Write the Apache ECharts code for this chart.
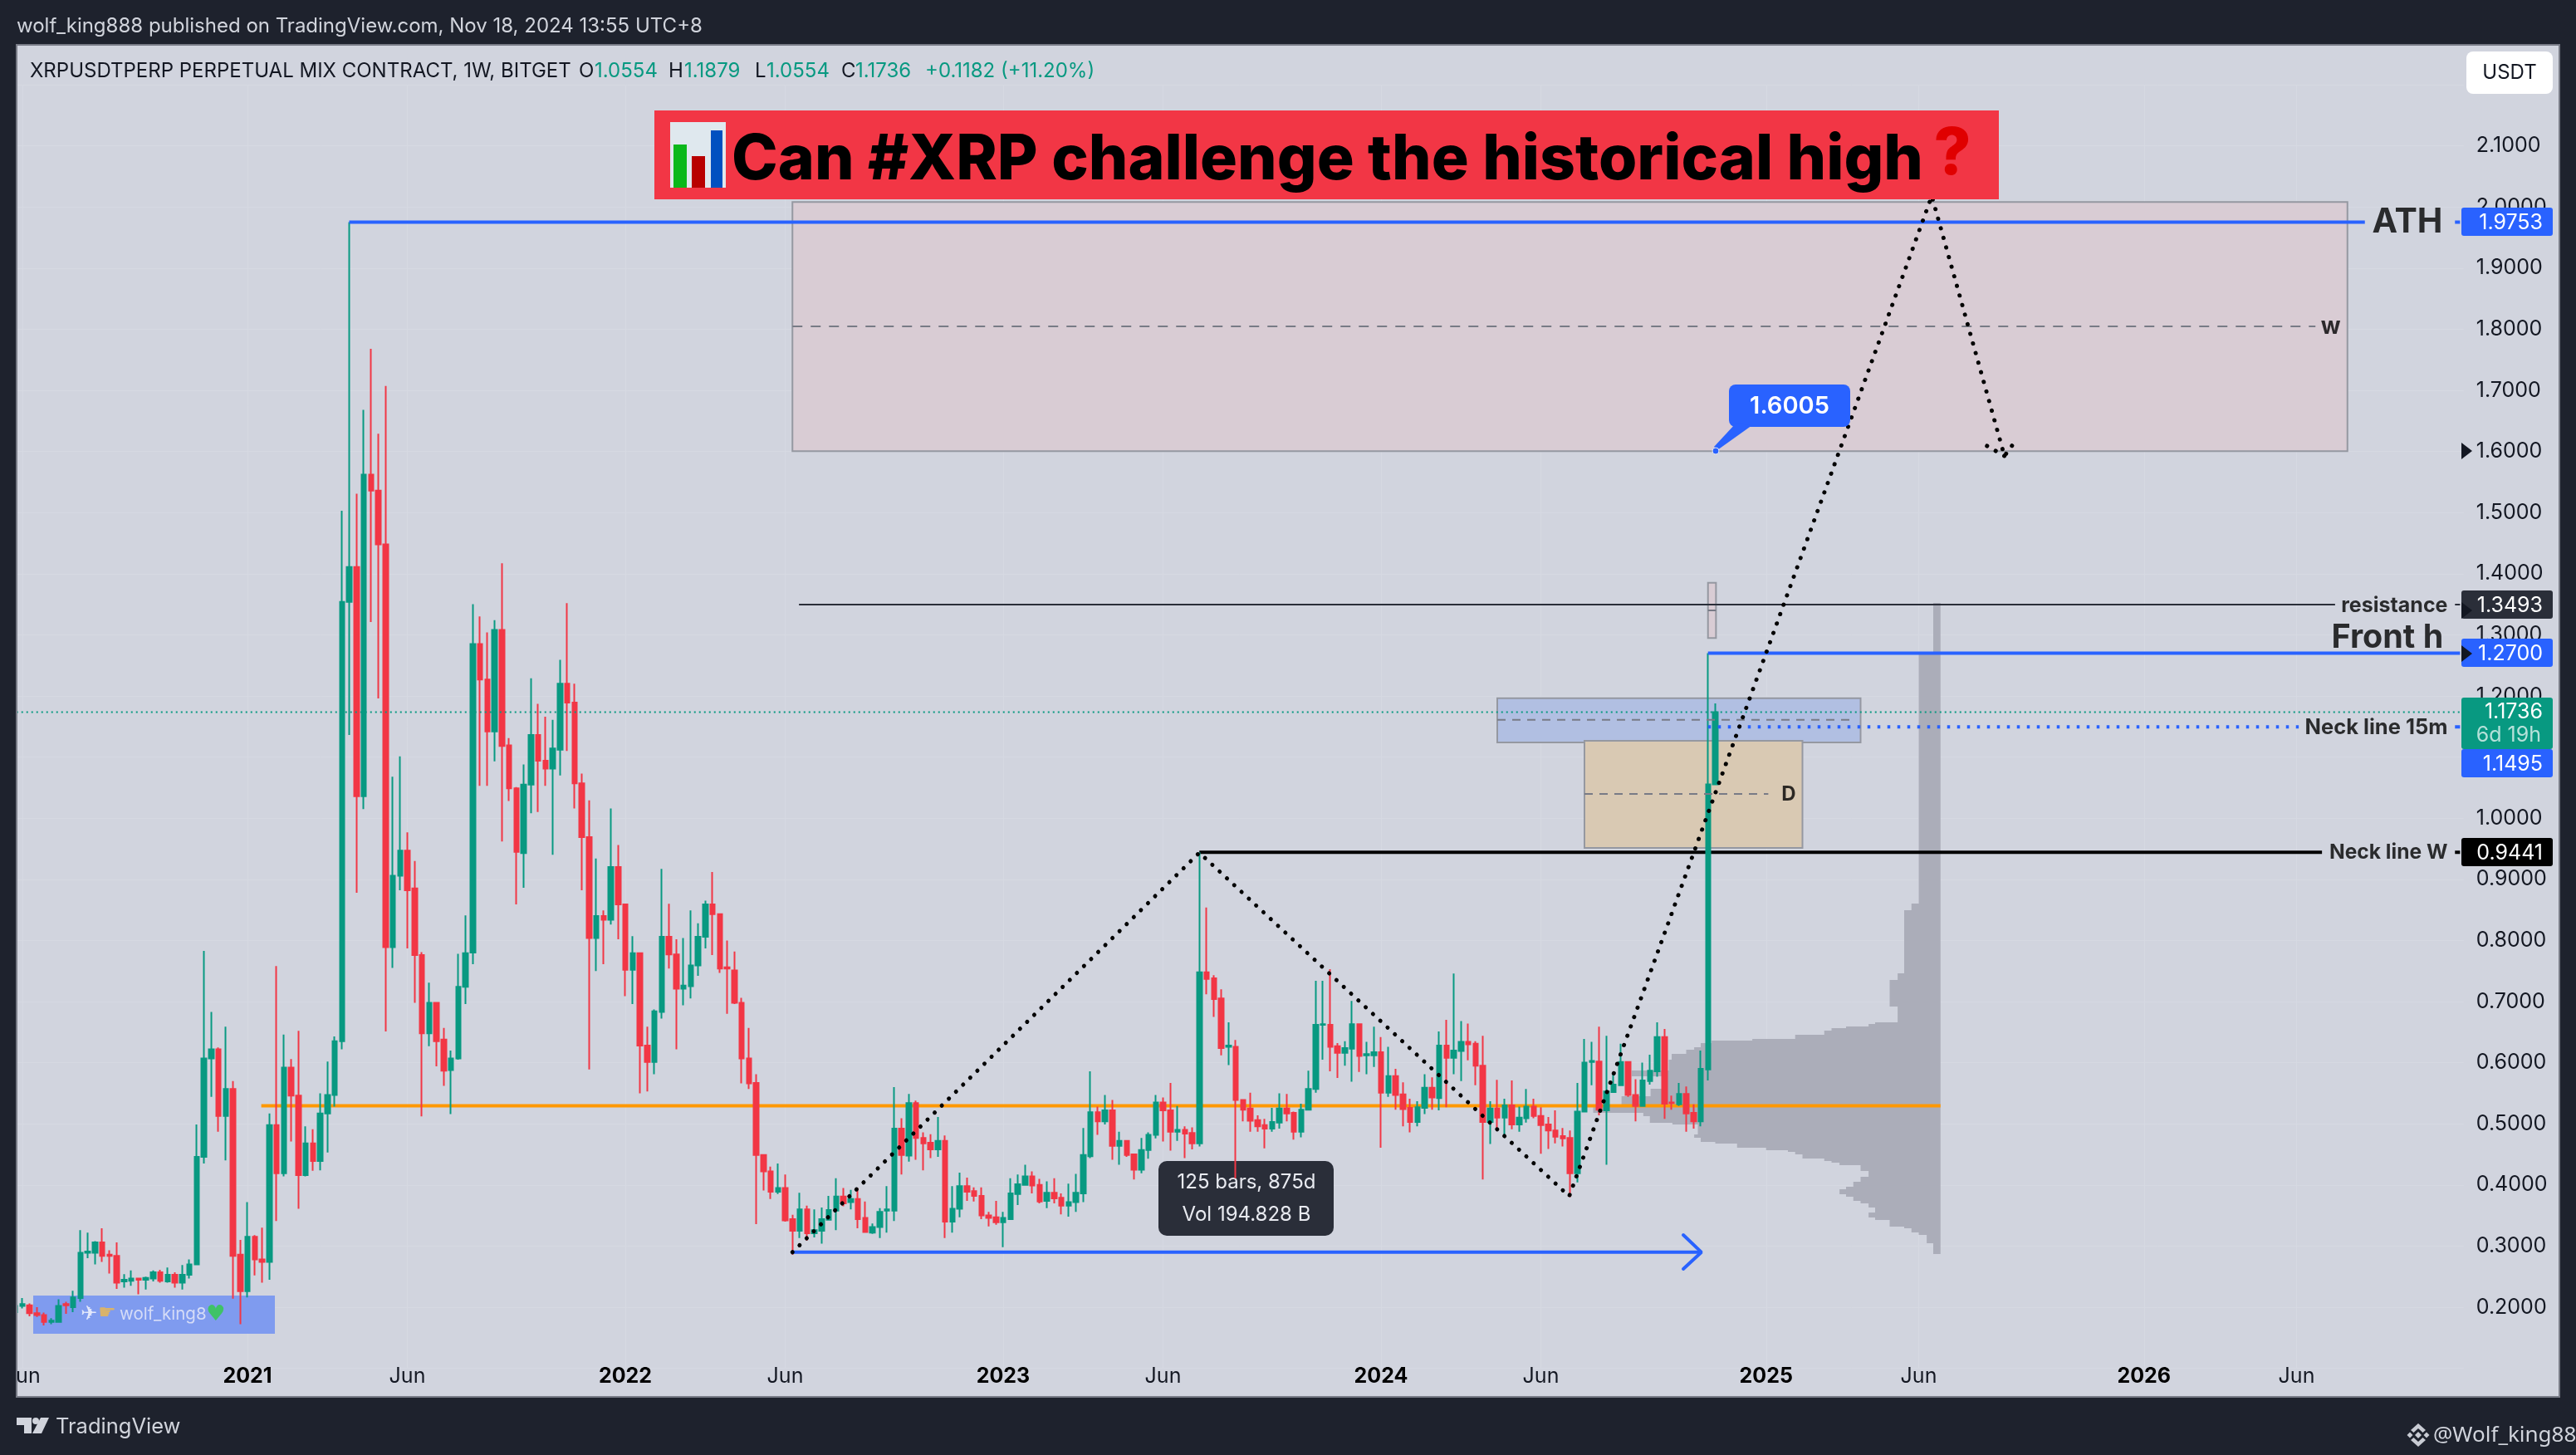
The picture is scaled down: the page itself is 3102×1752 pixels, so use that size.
<!DOCTYPE html>
<html><head><meta charset="utf-8">
<style>html,body{margin:0;padding:0;background:#1e222d}#c{width:3102px;height:1752px}</style>
<script src="https://cdn.jsdelivr.net/npm/echarts@6/dist/echarts.min.js"></script>
</head><body><div id="c"></div>
<script>
// ---- weekly candles, oldest first (week 32 is the first week of 2021) ----
const open=[
.192,.202,.203,.190,.187,.176,.176,.205,.200,.215,
.289,.289,.306,.286,.284,.242,.243,.247,.245,.247,
.257,.242,.253,.240,.253,.270,.446,.607,.622,.513,
.557,.286,.226,.315,.278,.274,.498,.419,.592,.546,
.416,.468,.439,.517,.547,.635,1.354,1.411,1.036,1.562,
1.536,1.448,.789,.906,.947,.885,.776,.648,.698,.638,
.588,.607,.724,.780,1.285,1.227,1.142,1.308,1.119,1.049,
.943,1.055,1.136,1.094,1.081,1.112,1.220,1.189,1.057,.969,
.804,.840,.834,.920,.859,.752,.779,.628,.601,.683,
.806,.777,.721,.725,.759,.806,.859,.843,.756,.751,
.698,.607,.567,.449,.422,.389,.395,.344,.325,.360,
.321,.325,.343,.358,.381,.372,.377,.346,.322,.331,
.358,.358,.492,.448,.534,.477,.469,.458,.472,.340,
.361,.398,.390,.382,.350,.347,.339,.344,.385,.400,
.414,.400,.374,.387,.379,.366,.372,.386,.447,.519,
.504,.522,.464,.472,.450,.425,.457,.482,.535,.522,
.487,.490,.485,.468,.748,.738,.705,.626,.626,.539,
.525,.506,.498,.492,.502,.525,.518,.487,.523,.557,
.662,.662,.627,.616,.623,.663,.612,.612,.617,.551,
.578,.548,.526,.503,.526,.559,.542,.628,.608,.619,
.634,.631,.595,.503,.525,.510,.530,.499,.509,.528,
.513,.499,.489,.480,.477,.419,.520,.601,.602,.522,
.552,.563,.601,.547,.529,.570,.586,.642,.535,.532,
.549,.518,.504,.589,1.0554];
const high=[
.206,.215,.206,.200,.191,.182,.213,.209,.227,.326,
.322,.308,.329,.293,.306,.254,.260,.248,.250,.260,
.261,.265,.257,.269,.278,.499,.783,.683,.625,.659,
.570,.310,.372,.318,.330,.517,.758,.646,.606,.652,
.496,.491,.550,.602,.643,1.503,1.9753,1.531,1.668,1.768,
1.629,1.707,1.068,1.101,.977,.930,.781,.731,.698,.657,
.620,.778,.841,1.350,1.330,1.304,1.324,1.417,1.131,1.051,
1.088,1.229,1.187,1.166,1.161,1.259,1.352,1.220,1.073,1.029,
.934,.849,1.016,.956,.859,.807,.779,.659,.687,.917,
.860,.802,.804,.849,.828,.865,.912,.843,.800,.782,
.706,.657,.581,.449,.430,.435,.417,.351,.387,.366,
.360,.363,.382,.411,.395,.392,.395,.373,.337,.362,
.398,.560,.509,.549,.538,.486,.483,.511,.481,.398,
.420,.412,.396,.396,.356,.374,.356,.411,.417,.433,
.422,.410,.406,.411,.386,.402,.418,.493,.586,.528,
.547,.539,.487,.473,.451,.477,.486,.547,.543,.567,
.529,.496,.494,.9441,.854,.743,.720,.666,.637,.539,
.551,.514,.508,.526,.550,.549,.520,.533,.587,.734,
.734,.753,.632,.635,.701,.664,.634,.659,.642,.626,
.590,.568,.541,.537,.581,.576,.651,.670,.746,.668,
.664,.635,.644,.537,.572,.541,.571,.528,.557,.541,
.527,.511,.522,.493,.489,.567,.639,.634,.659,.644,
.584,.631,.602,.573,.600,.613,.666,.655,.546,.567,
.561,.532,.620,1.2700,1.1879];
const low=[
.190,.198,.185,.184,.170,.172,.175,.189,.192,.209,
.280,.270,.274,.255,.230,.232,.235,.221,.229,.242,
.240,.240,.232,.229,.247,.270,.435,.544,.487,.440,
.214,.172,.216,.252,.240,.245,.341,.414,.471,.361,
.414,.423,.424,.453,.528,.622,1.136,.878,1.015,1.321,
1.196,.651,.755,.882,.787,.698,.512,.627,.594,.562,
.516,.605,.696,.761,1.053,1.053,1.093,.962,1.028,.859,
.886,1.008,1.010,1.053,.940,1.070,1.110,1.016,.882,.589,
.750,.761,.826,.802,.709,.696,.550,.553,.581,.672,
.754,.622,.694,.705,.742,.787,.776,.747,.680,.696,
.566,.557,.336,.391,.377,.385,.340,.286,.313,.309,
.314,.304,.343,.326,.365,.360,.329,.322,.320,.313,
.322,.341,.417,.438,.441,.424,.444,.446,.313,.322,
.347,.374,.373,.344,.332,.335,.298,.344,.367,.400,
.386,.370,.362,.370,.352,.348,.356,.372,.444,.482,
.499,.441,.433,.446,.409,.419,.443,.476,.471,.456,
.472,.444,.458,.463,.712,.675,.612,.596,.411,.504,
.487,.487,.460,.487,.492,.504,.474,.478,.522,.551,
.605,.586,.575,.595,.569,.585,.581,.593,.461,.544,
.523,.496,.486,.496,.516,.523,.522,.527,.581,.570,
.604,.563,.409,.467,.493,.478,.491,.487,.502,.509,
.451,.459,.468,.463,.380,.404,.519,.563,.514,.433,
.551,.563,.544,.504,.528,.564,.577,.508,.523,.529,
.487,.492,.496,.571,1.0554];
const close=[
.202,.205,.190,.187,.176,.178,.202,.203,.216,.289,
.291,.306,.284,.284,.240,.245,.247,.245,.248,.257,
.243,.253,.240,.253,.270,.446,.607,.622,.513,.557,
.284,.226,.315,.278,.274,.498,.419,.592,.546,.416,
.468,.439,.517,.547,.635,1.354,1.411,1.036,1.562,1.536,
1.448,.789,.906,.947,.882,.776,.648,.698,.635,.587,
.607,.724,.779,1.285,1.227,1.142,1.308,1.118,1.049,.945,
1.055,1.136,1.094,1.081,1.114,1.220,1.189,1.057,.969,.804,
.840,.834,.920,.859,.752,.779,.628,.601,.684,.806,
.777,.721,.726,.759,.806,.859,.843,.754,.754,.698,
.607,.566,.449,.422,.389,.395,.342,.325,.360,.321,
.326,.344,.359,.381,.370,.377,.344,.323,.331,.356,
.360,.492,.449,.534,.477,.468,.458,.472,.340,.361,
.398,.389,.382,.350,.346,.339,.346,.386,.401,.414,
.399,.373,.387,.378,.366,.372,.387,.449,.519,.504,
.522,.464,.472,.449,.425,.457,.482,.535,.522,.487,
.490,.484,.468,.748,.737,.704,.624,.628,.539,.523,
.505,.496,.492,.503,.525,.517,.487,.523,.557,.662,
.663,.626,.616,.624,.663,.611,.614,.617,.551,.578,
.547,.524,.503,.527,.559,.543,.628,.608,.620,.634,
.630,.595,.503,.525,.510,.530,.499,.510,.528,.513,
.498,.489,.479,.476,.419,.520,.600,.603,.523,.553,
.564,.601,.547,.529,.571,.587,.642,.533,.534,.549,
.517,.504,.590,1.0554,1.1736];

// ---- axes ----
const xTickWeeks=[1,32,54,84,106,136,158,188,210,241,262,293,314];
const xTickLabels=['Jun','2021','Jun','2022','Jun','2023','Jun','2024','Jun','2025','Jun','2026','Jun'];
const yTickValues=[.2,.3,.4,.5,.6,.7,.8,.9,1,1.1,1.2,1.3,1.4,1.5,1.6,1.7,1.8,1.9,2,2.1];

// ---- volume profile: [price top, price bottom, width in weeks] ----
const profileEdges=[1.3522,1.272,.8603,.8495,.7462,.7353,.6918,.666,.6633,.6592,.6565,.6524,.6456,.6388,.6361,.6321,.6253,.6212,.6144,.6049,.5872,.5777,.5573,.5451,.5315,.5179,.5125,.5016,.4989,.4826,.4772,.4704,.4677,.4609,.4568,.4541,.45,.4432,.4391,.4364,.4323,.4228,.4133,.4052,.397,.3929,.3848,.3807,.3739,.3698,.363,.3549,.3467,.3427,.3318,.3291,.3223,.3182,.3046,.287];
const profileWidths=[1,3,4,5,5.9,7,5.9,9,9.9,13,15,16,20,25.9,31.5,33,33.9,35,37,37.4,42.5,37.9,39.9,43.9,47.8,40.9,40,36.9,33.4,33.9,33,31,28,24,21,20,19,16,15,13.9,11,9.9,11,12,13,13.9,13,12,11,9.9,9,9.9,9,7,5,4,3,1.9,1];
const profileAnchorWeek=265;

// ---- drawings, in [week, price] ----
const athLine=[[46,1.9753],[323.4,1.9753]];
const athTick=[[335.8,1.9753],[336.5,1.9753]];
const resistanceLine=[[107.9,1.3493],[319.3,1.3493]];
const resistanceTick=[[335.8,1.3493],[336.5,1.3493]];
const frontLine=[[233,1.27],[336.5,1.27]];
const neck15Line=[[233,1.1495],[314.3,1.1495]];
const neck15Tick=[[335.8,1.1495],[336.5,1.1495]];
const neckWLine=[[163,.9441],[317.5,.9441]];
const neckWTick=[[335.8,.9441],[336.5,.9441]];
const lastPriceLine=[[.2,1.1736],[336.5,1.1736]];
const supportLine=[[33.9,.5294],[265,.5294]];
const rangeLine=[[107,.2899],[232,.2899]];
const rangeArrow=[[229.6,.3182],[232.1,.2899],[229.6,.2625]];
const pathDots=[[107,.2899],[163,.9435],[213.9,.3815],[263.8,2.018],[273.8,1.5926],[275.3,1.617],[null,null],[271.4,1.609],[273.8,1.5926]];
const boxMidW=[[107,1.8045],[316.6,1.8045]];
const boxMid15=[[204,1.161],[253,1.161]];
const boxMidD=[[216,1.0397],[241.3,1.0397]];
const boxMidTiny=[[233,1.34],[234.1,1.34]];
// week from, week to, price top, price bottom
const boxes=[[107,321,2.008,1.6005],[204,254,1.1963,1.124],[216,246,1.1266,.9514],[233,234.1,1.385,1.2947]];
const boxFills=['#d9ccd4','#b1bfe2','#d9c9b3','#d9ccd4'];
const noteTexts=['ATH','Front h','resistance','Neck line 15m','Neck line W'];
const noteWeeks=[334.1,334.2,334.8,334.8,334.8];
const notePrices=[1.9745,1.295,1.347,1.1485,.9436];
const noteSizes=[41,39.5,25,25.5,24.6];
const innerTexts=['w','D'];
const innerWeeks=[318.7,244.1];
const innerPrices=[1.8038,1.0383];
const innerSizes=[28,24];

const GREEN='#089981',RED='#f23645',BLUE='#2962ff',DARK='#1e222d',TXT='#131722',PANEL='#d1d4de',FONT='Inter';
const candles=open.map((o,i)=>[i,o,close[i],low[i],high[i]]);
const profile=profileWidths.map((w,i)=>[profileEdges[i],profileEdges[i+1],w]);

function ln(name,data,color,width,type,z,cap){
  return {name,type:'line',data,z,silent:true,symbol:'none',animation:false,connectNulls:false,
    lineStyle:{color,width,type:type||'solid',cap:cap||'butt'}};
}
const graphics=[];
const R=(x,y,w,h,fill,r,z,extra)=>graphics.push(Object.assign({type:'rect',silent:true,z:z||30,shape:{x,y,width:w,height:h,r:r||0},style:{fill}},extra||{}));
const T=(text,x,y,font,fill,align,z)=>graphics.push({type:'text',silent:true,z:z||60,x,y,style:{text,font,fill,textAlign:align||'left',textVerticalAlign:'middle'}});
const P=(points,fill,z)=>graphics.push({type:'polygon',silent:true,z:z||60,shape:{points},style:{fill}});

// page frame
R(0,0,20,1752,DARK,0,50);R(3082,0,20,1752,DARK,0,50);R(0,0,3102,54,DARK,0,50);R(0,1682,3102,70,DARK,0,50);
graphics.push({type:'rect',silent:true,z:51,shape:{x:20,y:54,width:3062,height:1628},style:{fill:'none',stroke:'#787b86',lineWidth:2}});
T('wolf_king888 published on TradingView.com, Nov 18, 2024 13:55 UTC+8',20,32,'24px '+FONT,'#d1d4dc');
// legend
const LF='24px '+FONT;
T('XRPUSDTPERP PERPETUAL MIX CONTRACT, 1W, BITGET',36,86,LF,TXT);
T('O',697,86,LF,TXT);T('1.0554',716,86,LF,GREEN);
T('H',805,86,LF,TXT);T('1.1879',824,86,LF,GREEN);
T('L',909,86,LF,TXT);T('1.0554',923,86,LF,GREEN);
T('C',1013,86,LF,TXT);T('1.1736',1030,86,LF,GREEN);
T('+0.1182 (+11.20%)',1114,86,LF,GREEN);
// banner
R(788,133,1619,107,RED,0,30);
R(807,147,67,79,'#dfe8ee',0,31);R(811,174,16,52,'#0ab81a',0,32);R(833,188,16,38,'#b80000',0,32);R(856,157,14,69,'#0050c0',0,32);
T('Can #XRP challenge the historical high',881,193,'800 75px '+FONT,'#000');
T('?',2351,187,'800 78px '+FONT,'#e00000','center');
// USDT button
R(2970,62,104,51,'#ffffff',8,40);
T('USDT',3022,88,'24px '+FONT,TXT,'center');
// callout
R(2082,463,146,51,BLUE,8,40);
P([[2090,510],[2110,512],[2068,542],[2064,538]],BLUE,40);
graphics.push({type:'circle',silent:true,z:41,shape:{cx:2066,cy:543,r:4},style:{fill:BLUE,stroke:'#e4e7f0',lineWidth:1}});
T('1.6005',2155,489,'600 29px '+FONT,'#fff','center',42);
// price tags
const tags=[['1.9753',250,34,BLUE,268],['1.3493',711,34,'#2a2e39',729],['1.2700',769,34,BLUE,787],['1.1495',902,34,BLUE,920],['0.9441',1009,34,'#000',1027]];
tags.forEach(t=>{R(2964,t[1],110,t[2],t[3],3,40);T(t[0],3062,t[4],'25px '+FONT,'#fff','right',42);});
R(2964,840,110,62,GREEN,3,41);
T('1.1736',3062,857,'25px '+FONT,'#fff','right',42);
T('6d 19h',3060,885,'25px '+FONT,'rgba(255,255,255,.7)','right',42);
P([[2964,533],[2977,543],[2964,553]],TXT,43);
P([[2964,725],[2977,735],[2964,745]],'#131722',43);
P([[2964,777],[2977,787],[2964,797]],'#131722',43);
// measure tooltip (under the candles)
R(1395,1398,211,90,'#2a2e39',10,1);
T('125 bars, 875d',1501,1424,'24px '+FONT,'#e8eaf0','center',1);
T('Vol 194.828 B',1501,1463,'24px '+FONT,'#e8eaf0','center',1);
// watermark
R(40,1560,291,46,'#7f9bef',0,1);
T('✈',107,1583,'24px "DejaVu Sans"','#e3e8fb','center',1);
T('☛',129,1582,'24px "DejaVu Sans"','#d9b36c','center',1);
T('wolf_king8',144,1583,'20.5px '+FONT,'#d5dcf7','left',1);
T('♥',260,1583,'26px "DejaVu Sans"','#3fc267','center',1);
// footer
P([[20,1707],[38,1707],[38,1726],[29,1726],[29,1716],[20,1716]],'#d1d4dc');
graphics.push({type:'circle',silent:true,z:60,shape:{cx:43,cy:1711,r:4},style:{fill:'#d1d4dc'}});
P([[49,1707],[59,1707],[50,1726],[39,1726]],'#d1d4dc');
T('TradingView',67,1718,'25.5px '+FONT,'#d1d4dc');
P([[2912,1714],[2921,1722],[2917.5,1725],[2912,1720],[2906.5,1725],[2903,1722]],'#c9ccd4');
P([[2912,1742],[2921,1734],[2917.5,1731],[2912,1736],[2906.5,1731],[2903,1734]],'#c9ccd4');
P([[2912,1724],[2916,1728],[2912,1732],[2908,1728]],'#c9ccd4');
P([[2902,1724.5],[2905.5,1728],[2902,1731.5],[2898.5,1728]],'#c9ccd4');
P([[2922,1724.5],[2925.5,1728],[2922,1731.5],[2918.5,1728]],'#c9ccd4');
T('@Wolf_king88',2930,1729,'26px "Noto Sans"','#d1d4dc');

const chart=echarts.init(document.getElementById('c'),null,{renderer:'canvas'});
chart.setOption({
  animation:false,backgroundColor:PANEL,
  grid:{left:18,top:102,width:2948.75,height:1545.6,containLabel:false},
  xAxis:{type:'value',min:0,max:337,interval:1,
    axisLine:{show:false},axisTick:{show:false,customValues:xTickWeeks},
    splitLine:{show:true,lineStyle:{color:'#d6d9e2',width:1}},
    axisLabel:{customValues:xTickWeeks,margin:10,verticalAlign:'middle',hideOverlap:false,
      formatter:v=>{const s=xTickLabels[xTickWeeks.indexOf(v)];return /^\d/.test(s)?`{y|${s}}`:`{m|${s}}`;},
      rich:{y:{fontFamily:FONT,fontSize:25,fontWeight:700,color:'#000'},m:{fontFamily:FONT,fontSize:25,color:TXT}}}},
  yAxis:{type:'value',position:'right',min:.1,max:2.2,interval:.1,
    axisLine:{show:false},axisTick:{show:false},
    splitLine:{show:true,lineStyle:{color:'#d6d9e2',width:1}},
    axisLabel:{customValues:yTickValues,margin:15,fontFamily:FONT,fontSize:25,color:TXT,align:'left',padding:[3,0,0,0],
      formatter:v=>v.toFixed(4)}},
  graphic:{elements:graphics},
  series:[
    {name:'boxes',type:'custom',z:1,silent:true,animation:false,data:boxes,encode:{x:0,y:2},clip:false,
      renderItem:(p,api)=>{const a=api.coord([api.value(0),api.value(2)]),b=api.coord([api.value(1),api.value(3)]);
        return {type:'rect',shape:{x:a[0],y:a[1],width:b[0]-a[0],height:b[1]-a[1]},style:{fill:boxFills[p.dataIndex],stroke:'#9598a1',lineWidth:2}};}},
    {name:'profile',type:'custom',z:2,silent:true,animation:false,data:profile,encode:{x:2,y:0},clip:false,
      renderItem:(p,api)=>{const a=api.coord([profileAnchorWeek-api.value(2),api.value(0)]),b=api.coord([profileAnchorWeek,api.value(1)]);
        return {type:'rect',shape:{x:a[0],y:a[1],width:b[0]-a[0],height:b[1]-a[1]},style:{fill:'#abadb9'}};}},
    ln('support',supportLine,'#ff9800',4,'solid',3),
    ln('neck W',neckWLine,'#000',4,'solid',3),
    ln('neck W tick',neckWTick,'#000',4,'solid',3),
    ln('resistance',resistanceLine,'#2a2e39',2,'solid',3),
    ln('resistance tick',resistanceTick,'#2a2e39',2,'solid',3),
    {name:'XRPUSDT',type:'candlestick',z:4,silent:true,animation:false,data:candles,encode:{x:0,y:[1,2,3,4]},barWidth:6,clip:false,
      itemStyle:{color:GREEN,color0:RED,borderColor:GREEN,borderColor0:RED,borderWidth:2}},
    ln('mid W',boxMidW,'#787b86',2,[12,10],5),
    ln('mid 15m',boxMid15,'#787b86',2,[10,8],5),
    ln('mid D',boxMidD,'#787b86',2,[10,8],5),
    ln('mid tiny',boxMidTiny,'#787b86',2,'solid',5),
    ln('last price',lastPriceLine,GREEN,2,[2,4],5),
    ln('ATH',athLine,BLUE,4,'solid',6),
    ln('ATH tick',athTick,BLUE,4,'solid',6),
    ln('front',frontLine,BLUE,4,'solid',6),
    ln('neck 15m',neck15Line,BLUE,4,[3.5,8.5],6),
    ln('neck 15m tick',neck15Tick,BLUE,4,'solid',6),
    ln('range',rangeLine,BLUE,4,'solid',6),
    ln('range arrow',rangeArrow,BLUE,4,'solid',6,'round'),
    ln('path',pathDots,'#000',5,[.1,11.9],7,'round'),
    {name:'notes',type:'scatter',z:8,silent:true,animation:false,symbolSize:0,
      data:noteTexts.map((t,i)=>({value:[noteWeeks[i],notePrices[i]],
        label:{show:true,position:'left',distance:0,formatter:t,fontFamily:FONT,fontWeight:700,fontSize:noteSizes[i],color:'#000'}}))},
    {name:'inner notes',type:'scatter',z:8,silent:true,animation:false,symbolSize:0,
      data:innerTexts.map((t,i)=>({value:[innerWeeks[i],innerPrices[i]],
        label:{show:true,position:'inside',formatter:t,fontFamily:FONT,fontWeight:700,fontSize:innerSizes[i],color:'#000'}}))}
  ]
});
</script></body></html>
